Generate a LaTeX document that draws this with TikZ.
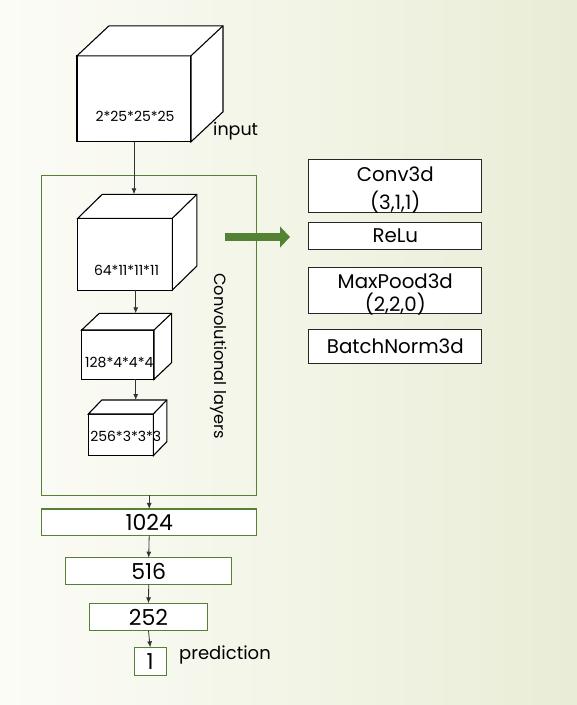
\documentclass[tikz,border=0pt]{standalone}
\usepackage{fontspec}
\setmainfont{Poppins}
\usetikzlibrary{arrows.meta,calc}
\definecolor{grn}{RGB}{84,130,53}
\definecolor{bgl}{RGB}{252,252,247}
\definecolor{bgr}{RGB}{233,237,214}
\begin{document}
\begin{tikzpicture}[x=1pt,y=-1pt,
  face/.style={draw=black,line width=1.1pt,fill=white,inner sep=0pt,outer sep=0pt},
  side/.style={draw=black,line width=1.1pt,fill=white,line join=miter},
  gbox/.style={draw=grn,line width=1.1pt,fill=white,inner sep=0pt,outer sep=0pt},
  kbox/.style={draw=black!85,line width=1pt,fill=white,inner sep=0pt,outer sep=0pt,align=center,font=\fontsize{19.8}{22}\selectfont},
  ktext/.style={inner sep=0pt,align=center,font=\fontsize{19.8}{22}\selectfont},
  arr/.style={draw=black!80,line width=0.8pt,-{Latex[length=6pt,width=5pt]}},
  small/.style={font=\fontsize{14}{16}\selectfont,inner sep=0pt},
  big/.style={font=\fontsize{22}{24}\selectfont}
]
\useasboundingbox (0,0) rectangle (577,705);
\shade[left color=bgl,right color=bgr] (0,0) rectangle (577,705);

% input cube
\node[face,minimum width=114pt,minimum height=86pt] (in) at (134,98.8) {};
\draw[side] (in.north west) -- ++(32,-30) -- ++(114,0) -- ++(0,86) -- (in.south east) -- (in.north east) -- cycle;
\draw[side] (in.north east) -- ++(32,-30);
\node[small] (inlab) at (135,116.7) {2*25*25*25};
\node[font=\fontsize{17.5}{19}\selectfont,anchor=west,inner sep=0pt] (inname) at (213,131) {input};

% convolutional block
\node[draw=grn,line width=1.1pt,minimum width=215pt,minimum height=319.3pt,inner sep=0pt,outer sep=0pt] (conv) at (149.2,335.4) {};
\node[font=\fontsize{16.2}{19}\selectfont,rotate=-90,inner sep=0pt] (convlab) at (219,356) {Convolutional layers};

% cube 1
\node[face,minimum width=94.6pt,minimum height=71.7pt] (c1) at (125,254.2) {};
\draw[side] (c1.north west) -- ++(24.5,-24) -- ++(94.6,0) -- ++(0,71.7) -- (c1.south east) -- (c1.north east) -- cycle;
\draw[side] (c1.north east) -- ++(24.5,-24);
\node[small] (c1lab) at (126.5,270) {64*11*11*11};

% cube 2
\node[face,minimum width=72.3pt,minimum height=49.3pt] (c2) at (117.85,354.65) {};
\draw[side] (c2.north west) -- ++(17.6,-16.7) -- ++(72.3,0) -- ++(0,49.3) -- (c2.south east) -- (c2.north east) -- cycle;
\draw[side] (c2.north east) -- ++(17.6,-16.7);
\node[small] (c2lab) at (119.3,362.7) {128*4*4*4};

% cube 3
\node[face,minimum width=65pt,minimum height=41.7pt] (c3) at (120.8,434.85) {};
\draw[side] (c3.north west) -- ++(13.5,-14) -- ++(65,0) -- ++(0,41.7) -- (c3.south east) -- (c3.north east) -- cycle;
\draw[side] (c3.north east) -- ++(13.5,-14);
\node[small] (c3lab) at (125.7,436.7) {256*3*3*3};

\coordinate (c1top) at (134,194.3);
\coordinate (c1bot) at (135.7,290);
\coordinate (c2top) at (135.7,313.3);
\coordinate (c2bot) at (135.7,379.3);
\coordinate (c3top) at (135.7,400);
\draw[arr] (in.south) -- (c1top);
\draw[arr] (c1bot) -- (c2top);
\draw[arr] (c2bot) -- (c3top);

% dense layers
\node[gbox,minimum width=215pt,minimum height=26.7pt,big] (d1) at (149.2,522.3) {1024};
\node[gbox,minimum width=166pt,minimum height=26.6pt,big] (d2) at (148.7,571) {516};
\node[gbox,minimum width=118.4pt,minimum height=27.4pt,big] (d3) at (148.5,617) {252};
\node[gbox,minimum width=31.7pt,minimum height=27.7pt,big] (d4) at (150.2,661.2) {1};
\node[font=\fontsize{18}{20}\selectfont,anchor=west,inner sep=0pt] (pred) at (179,655) {prediction};
\draw[arr] (conv.south) -- (d1.north);
\draw[arr] (d1.south) -- (d2.north);
\draw[arr] (d2.south) -- (d3.north);
\draw[arr] (d3.south) -- (d4.north);

% green arrow
\coordinate (ga) at (225,237);
\coordinate (gb) at (290,237);
\draw[grn,line width=7.5pt,-{Triangle[length=10pt,width=20.6pt]}] (ga) -- (gb);

% layer legend
\node[kbox,minimum width=172.7pt,minimum height=53.3pt] (k1) at (395.3,185.7) {};
\node[ktext,font=\fontsize{19.8}{28}\selectfont] (k1t) at (395.3,190) {Conv3d\\(3,1,1)};
\node[kbox,minimum width=172.7pt,minimum height=26.7pt] (k2) at (395.3,235.7) {ReLu};
\node[kbox,minimum width=172.7pt,minimum height=46pt] (k3) at (395.3,290.3) {};
\node[ktext,font=\fontsize{19.8}{23}\selectfont] (k3t) at (395.3,294.5) {MaxPood3d\\(2,2,0)};
\node[kbox,minimum width=172.7pt,minimum height=34.3pt] (k4) at (395.3,346.2) {BatchNorm3d};
\end{tikzpicture}
\end{document}
